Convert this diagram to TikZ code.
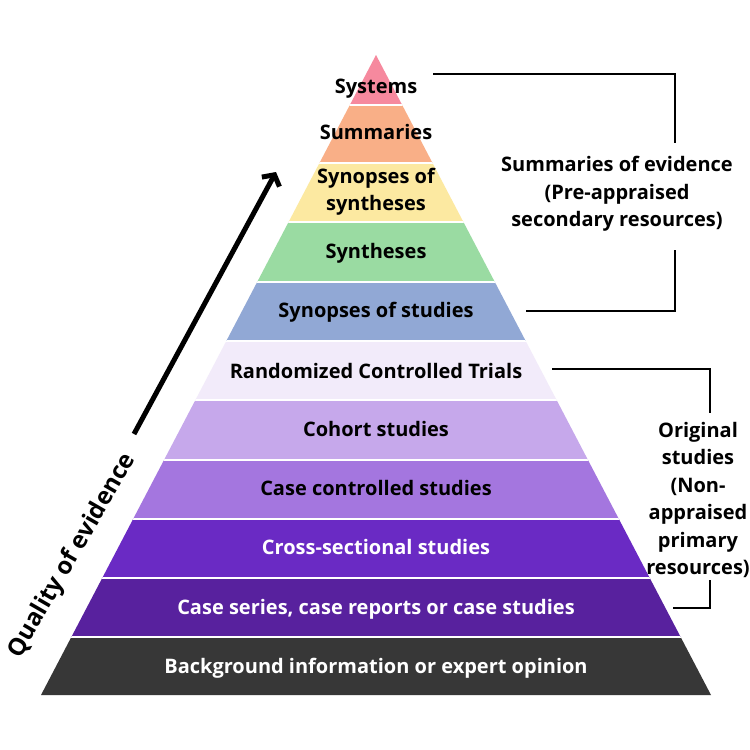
\documentclass[tikz,border=0pt]{standalone}
\usepackage{fontspec}
\setmainfont{Open Sans}
\usetikzlibrary{arrows.meta}
\definecolor{cSys}{HTML}{F6899E}
\definecolor{cSum}{HTML}{F9AF87}
\definecolor{cSoS}{HTML}{FCE9A1}
\definecolor{cSyn}{HTML}{9ADBA2}
\definecolor{cSoSt}{HTML}{91A8D5}
\definecolor{cRCT}{HTML}{F2EBFA}
\definecolor{cCoh}{HTML}{C6A8EB}
\definecolor{cCC}{HTML}{A476DF}
\definecolor{cCS}{HTML}{6A2AC4}
\definecolor{cSer}{HTML}{58219E}
\definecolor{cBg}{HTML}{373737}
\begin{document}
\begin{tikzpicture}[x=1pt,y=-1pt,
  lbl/.style={font=\bfseries\fontsize{20}{27}\selectfont, text=black, inner sep=0pt, anchor=base},
  wlbl/.style={lbl, text=white},
  side/.style={font=\bfseries\fontsize{20}{27.5}\selectfont, text=black, inner sep=0pt, align=center},
  gap/.style={white, line width=2.5pt},
  bracket/.style={black, line width=1.3pt},
  qarrow/.style={black, line width=5pt, -{Straight Barb[length=8pt,width=20pt]}}]
\useasboundingbox (0,0) rectangle (750,750);
\fill[white] (0,0) rectangle (750,750);
\coordinate (apex) at (376,55);
\coordinate (bl) at (41,695);
\coordinate (br) at (711,695);
\begin{scope}
  \clip (apex) -- (bl) -- (br) -- cycle;
  \fill[cSys]  (0,50)  rectangle (750,105);
  \fill[cSum]  (0,105) rectangle (750,163);
  \fill[cSoS]  (0,163) rectangle (750,222);
  \fill[cSyn]  (0,222) rectangle (750,282);
  \fill[cSoSt] (0,282) rectangle (750,341);
  \fill[cRCT]  (0,341) rectangle (750,400);
  \fill[cCoh]  (0,400) rectangle (750,460);
  \fill[cCC]   (0,460) rectangle (750,519);
  \fill[cCS]   (0,519) rectangle (750,578);
  \fill[cSer]  (0,578) rectangle (750,637);
  \fill[cBg]   (0,637) rectangle (750,700);
  \foreach \y in {105,163,222,282,341,400,460,519,578,637}
    \draw[gap] (0,\y) -- (750,\y);
\end{scope}
% labels
\node[lbl] (sys) at (376,93) {Systems};
\node[lbl] (sum) at (376,139) {Summaries};
\node[lbl, anchor=center, align=center] (sos) at (376,192) {Synopses of\\syntheses};
\node[lbl] (syn) at (376,258) {Syntheses};
\node[lbl] (sost) at (376,317) {Synopses of studies};
\node[lbl] (rct) at (376,378) {Randomized Controlled Trials};
\node[lbl] (coh) at (376,436) {Cohort studies};
\node[lbl] (cc) at (376,495) {Case controlled studies};
\node[wlbl] (cs) at (376,554) {Cross-sectional studies};
\node[wlbl] (ser) at (376,614) {Case series, case reports or case studies};
\node[wlbl] (bg) at (376,673) {Background information or expert opinion};
% side texts
\node[side] (sumev) at (617,194) {Summaries of evidence\\(Pre-appraised\\secondary resources)};
\node[side] (orig) at (698,500) {Original\\studies\\(Non-\\appraised\\primary\\resources)};
% brackets
\coordinate (b1a) at (433,74);
\coordinate (b1b) at (675,143);
\coordinate (b1c) at (675,250);
\coordinate (b1d) at (526,311);
\draw[bracket] (b1a) -| (b1b);
\draw[bracket] (b1c) |- (b1d);
\coordinate (b2a) at (552,369);
\coordinate (b2b) at (710,413);
\coordinate (b2c) at (710,580);
\coordinate (b2d) at (673,608);
\draw[bracket] (b2a) -| (b2b);
\draw[bracket] (b2c) |- (b2d);
% quality arrow
\coordinate (qa) at (134,434);
\coordinate (qb) at (276,172);
\draw[qarrow] (qa) -- (qb);
\node[font=\bfseries\fontsize{24}{28}\selectfont, inner sep=0pt, anchor=base, rotate=60] (qual) at (78,559) {Quality of evidence};
\end{tikzpicture}
\end{document}
